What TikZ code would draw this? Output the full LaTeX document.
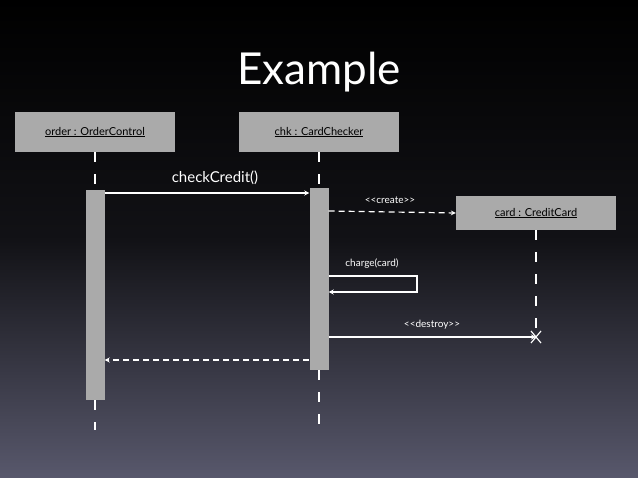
\documentclass[tikz,border=0pt]{standalone}
\usepackage{fontspec}
\setmainfont{Lato}
\usetikzlibrary{positioning}
\definecolor{boxgray}{RGB}{170,170,170}
\definecolor{bgbot}{RGB}{88,88,108}
\tikzset{
  obj/.style={fill=boxgray, minimum width=160pt, minimum height=40pt, font=\fontsize{11}{13}\selectfont, text=black},
  bar/.style={fill=boxgray, minimum width=19pt, inner sep=0pt},
  life/.style={white, line width=1.2pt, dash pattern=on 10pt off 12pt},
  msg/.style={white, line width=1.2pt, -stealth},
  lbl/.style={text=white, font=\fontsize{10}{12}\selectfont, inner sep=1pt}
}
\begin{document}
\begin{tikzpicture}[x=1pt, y=-1pt]
 	\shade [top color=black, bottom color=bgbot, middle color=black!80!bgbot] (0,0) rectangle (638,478);
 	\useasboundingbox (0,0) rectangle (638,478);
 	\node [text=white, font=\fontsize{44}{50}\selectfont] (title) at (319,72) {Example};
 	% objects
 	\node [obj] (order) at (95,132) {\underline{order : OrderControl}};
 	\node [obj] (chk) at (319,132) {\underline{chk : CardChecker}};
 	\node [obj, minimum height=34pt] (card) at (536,213) {\underline{card : CreditCard}};
 	% activations
 	\node [bar, minimum height=210pt] (ordbar) at (95,295) {};
 	\node [bar, minimum height=182pt] (chkbar) at (319,279) {};
 	\coordinate (ordend) at (95,430);
 	\coordinate (chkend) at (319,430);
 	\coordinate (kill) at (536,337);
 	% lifelines
 	\draw [life] (order.south) -- (ordbar.north);
 	\draw [life] (ordbar.south) -- (ordend);
 	\draw [life] (chk.south) -- (chkbar.north);
 	\draw [life] (chkbar.south) -- (chkend);
 	\draw [life] (card.south) -- (kill);
 	% messages
 	\draw [msg] (ordbar.north east |- 0,193) -- (chkbar.north west |- 0,193);
 	\node [lbl, font=\fontsize{15}{18}\selectfont] (m1) at (215,178) {checkCredit()};
 	\draw [msg, dashed, dash pattern=on 6pt off 4pt] (chkbar.east |- 0,211) -- (card.west);
 	\node [lbl] (m2) at (390,200) {<{}<create>{}>};
 	\draw [msg] (chkbar.east |- 0,276) -- (417,276) -- (417,292) -- (chkbar.east |- 0,292);
 	\node [lbl] (m3) at (372,264) {charge(card)};
 	\draw [msg] (chkbar.east |- 0,337) -- (kill);
 	\node [lbl] (m4) at (432,325) {<{}<destroy>{}>};
 	\draw [white, line width=1.2pt] ([shift={(-5,-6)}]kill) -- ([shift={(5,6)}]kill) ([shift={(-5,6)}]kill) -- ([shift={(5,-6)}]kill);
 	\draw [msg, dash pattern=on 6pt off 4pt] (chkbar.west |- 0,360) -- (ordbar.east |- 0,360);
\end{tikzpicture}
\end{document}
